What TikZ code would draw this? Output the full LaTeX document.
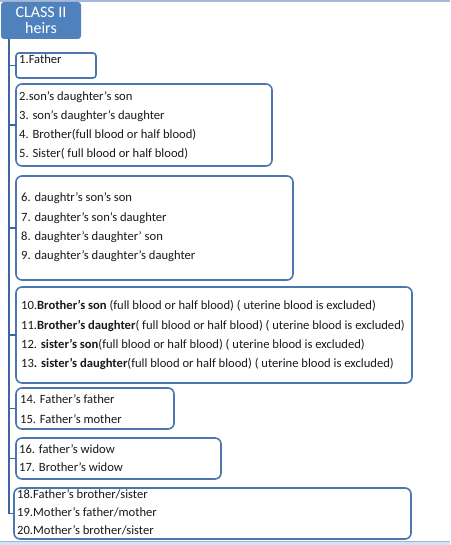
\documentclass[tikz,border=0pt]{standalone}
\usepackage{fontspec}
\setmainfont{Carlito}
\definecolor{hdrblue}{RGB}{79,129,189}
\definecolor{edgeblue}{RGB}{75,118,176}
\definecolor{spineblue}{RGB}{62,103,160}
\definecolor{topline}{RGB}{166,184,218}
\definecolor{bandfill}{RGB}{214,226,242}
\definecolor{bandline}{RGB}{160,182,214}
\definecolor{txt}{RGB}{25,25,25}
\begin{document}
\begin{tikzpicture}[x=1pt,y=-1pt,
  box/.style={draw=edgeblue, line width=1.6pt, rounded corners=6pt, fill=white,
    anchor=north west, inner sep=0pt, outer sep=0pt},
  smallbox/.style={box, rounded corners=3pt},
  hdr/.style={fill=hdrblue, rounded corners=3pt, anchor=north west, inner sep=0pt, outer sep=0pt,
    text=white, font=\fontsize{16}{16}\selectfont, align=center},
  ln/.style={anchor=west, inner sep=0pt, text=txt, font=\fontsize{12.6}{14}\selectfont},
  wire/.style={draw=spineblue, line width=1.8pt}]
\useasboundingbox (0,0) rectangle (450,545);
\fill[white] (0,0) rectangle (450,545);
% top line and bottom band
\fill[topline] (0,0) rectangle (450,2);
\fill[bandfill] (0,541) rectangle (450,545);
\draw[bandline, line width=0.8pt] (0,541) -- (450,541);

% header
\node[hdr, minimum width=80pt, minimum height=37pt] (hdr) at (1,2) {CLASS II\\heirs};

% boxes
\node[smallbox, minimum width=80pt, minimum height=25pt] (b1) at (16,53) {};
\node[box, minimum width=256pt, minimum height=82pt] (b2) at (16,84) {};
\node[box, minimum width=277pt, minimum height=104pt] (b3) at (16,176) {};
\node[box, minimum width=396pt, minimum height=96pt] (b4) at (16,287) {};
\node[box, minimum width=158pt, minimum height=41pt] (b5) at (16,388) {};
\node[box, minimum width=205pt, minimum height=41pt] (b6) at (16,438) {};
\node[box, minimum width=397pt, minimum height=51pt] (b7) at (14,488) {};

% spine and connectors
\coordinate (s0) at (9,39);
\coordinate (s7) at (9,513.5);
\draw[wire] (s0) -- (s7 |- b7.west) -- (b7.west);
\foreach \b in {b1,b2,b3,b4,b5,b6}{
  \draw[wire] (s0 |- \b.west) -- (\b.west);
}

% texts
\node[ln] (t1) at (19,59) {1.Father};

\node[ln] (t2) at (19,97) {2.son's daughter's son};
\node[ln] (t3) at (19,116) {3. son's daughter's daughter};
\node[ln] (t4) at (19,135) {4. Brother(full blood or half blood)};
\node[ln] (t5) at (19,154) {5. Sister( full blood or half blood)};

\node[ln] (t6) at (21,198) {6. daughtr's son's son};
\node[ln] (t7) at (21,218) {7. daughter's son's daughter};
\node[ln] (t8) at (21,237) {8. daughter's daughter' son};
\node[ln] (t9) at (21,256) {9. daughter's daughter's daughter};

\node[ln] (t10) at (21,306) {10.\textbf{Brother's son} (full blood or half blood) ( uterine blood is excluded)};
\node[ln] (t11) at (21,326) {11.\textbf{Brother's daughter}( full blood or half blood) ( uterine blood is excluded)};
\node[ln] (t12) at (21,345) {12. \textbf{sister's son}(full blood or half blood) ( uterine blood is excluded)};
\node[ln] (t13) at (21,364) {13\textbf{. sister's daughter}(full blood or half blood) ( uterine blood is excluded)};

\node[ln] (t14) at (20,399) {14. Father's father};
\node[ln] (t15) at (20,419) {15. Father's mother};

\node[ln] (t16) at (19,449) {16. father's widow};
\node[ln] (t17) at (19,467) {17. Brother's widow};

\node[ln] (t18) at (17,494) {18.Father's brother/sister};
\node[ln] (t19) at (17,512) {19.Mother's father/mother};
\node[ln] (t20) at (17,530) {20.Mother's brother/sister};
\end{tikzpicture}
\end{document}
